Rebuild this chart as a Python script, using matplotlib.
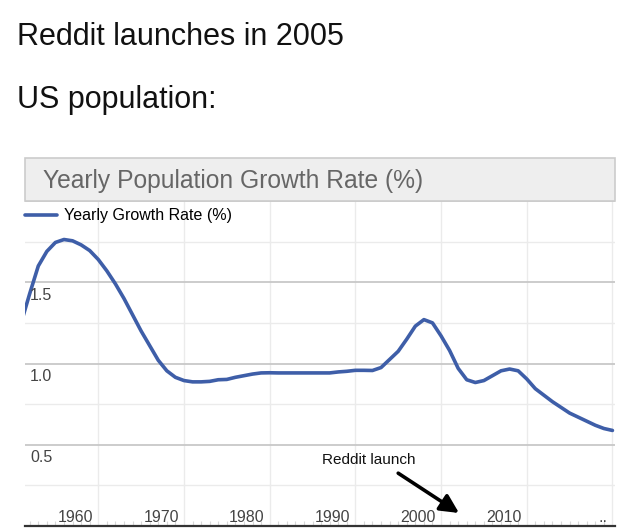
import numpy as np
import matplotlib
matplotlib.use("Agg")
import matplotlib.pyplot as plt
from matplotlib.patches import Rectangle
from matplotlib.transforms import offset_copy, blended_transform_factory

plt.rcParams['font.family'] = ['Liberation Sans', 'DejaVu Sans']

# values, one per year
years = list(range(1951, 2021))
growth = [1.25, 1.43, 1.60, 1.69, 1.745, 1.763, 1.755, 1.73, 1.695, 1.64,
          1.57, 1.49, 1.40, 1.30, 1.20, 1.11, 1.02, 0.955, 0.915, 0.895,
          0.887, 0.887, 0.89, 0.90, 0.902, 0.915, 0.925, 0.935, 0.942, 0.943,
          0.942, 0.942, 0.942, 0.942, 0.942, 0.942, 0.942, 0.948, 0.952, 0.958,
          0.958, 0.957, 0.975, 1.025, 1.075, 1.15, 1.23, 1.27, 1.25, 1.17,
          1.08, 0.97, 0.90, 0.883, 0.895, 0.925, 0.955, 0.966, 0.955, 0.905,
          0.845, 0.805, 0.765, 0.73, 0.695, 0.67, 0.645, 0.62, 0.60, 0.588]

decades = [1960, 1970, 1980, 1990, 2000, 2010, 2020]
decade_labels = ["1960", "1970", "1980", "1990", "2000", "2010", ".."]
ytick_vals = [0.5, 1.0, 1.5]
ytick_labels = ["0.5", "1.0", "1.5"]

line_col = '#3e5ea8'

fig = plt.figure(figsize=(6.4, 5.3), dpi=100)
ax = fig.add_axes([25/640, 1 - 526/530, 590/640, 325/530])

ax.plot(years, growth, color=line_col, lw=2.6, solid_capstyle='round',
        solid_joinstyle='round', label='Yearly Growth Rate (%)', zorder=3)
ax.set_xlim(1951.45, 2020.3)
ax.set_ylim(0, 2.0)

# grid
ax.set_yticks([0.5, 1.0, 1.5, 2.0])
ax.set_yticks([0.25, 0.75, 1.25, 1.75], minor=True)
ax.set_xticks(decades)
ax.set_xticks([y for y in range(1952, 2021) if y % 10 != 0], minor=True)
ax.grid(True, which='major', axis='y', color='#c8c8c8', lw=1.3)
ax.grid(True, which='minor', axis='y', color='#ebebeb', lw=1.0)
ax.grid(True, which='major', axis='x', color='#ebebeb', lw=1.0)
ax.set_axisbelow(True)
ax.tick_params(axis='y', which='both', length=0, labelleft=False)
ax.tick_params(axis='x', which='major', length=0, labelbottom=False)
ax.tick_params(axis='x', which='minor', direction='in', length=3.5,
               width=0.8, color='#d8d8d8')
for s in ['top', 'left', 'right']:
    ax.spines[s].set_visible(False)
ax.spines['bottom'].set_color('#333333')
ax.spines['bottom'].set_linewidth(1.6)

# labels drawn inside the plot area, google-charts style
ytr = offset_copy(blended_transform_factory(ax.transAxes, ax.transData),
                  fig=fig, x=5, y=-13, units='dots')
for v, t in zip(ytick_vals, ytick_labels):
    ax.text(0, v, t, transform=ytr, ha='left', va='center',
            fontsize=11.5, color='#444444')

xtr = offset_copy(blended_transform_factory(ax.transData, ax.transAxes),
                  fig=fig, x=-5, y=9, units='dots')
for d, t in zip(decades, decade_labels):
    ax.text(d, 0, t, transform=xtr, ha='right', va='center',
            fontsize=11.5, color='#444444')

ax.legend(loc='upper left', bbox_to_anchor=(0.0, 0.978), frameon=False,
          borderpad=0, borderaxespad=0, handlelength=2.0, handletextpad=0.45,
          fontsize=11.5)

# chart title box
fig.patches.append(Rectangle((25/640, 1 - 201/530), 590/640, 43/530,
                             transform=fig.transFigure, facecolor='#eeeeee',
                             edgecolor='#cccccc', lw=1.2, zorder=0))
fig.text(43/640, 1 - 181/530, 'Yearly Population Growth Rate (%)',
         ha='left', va='center', fontsize=17.7, color='#666666')

# meme captions
fig.text(17/640, 1 - 37/530, 'Reddit launches in 2005', ha='left',
         va='center', fontsize=22, color='#111111')
fig.text(17/640, 1 - 100/530, 'US population:', ha='left',
         va='center', fontsize=22, color='#111111')

# launch annotation
ax.text(1991.6, 0.405, 'Reddit launch', ha='center', va='center',
        fontsize=11, color='#111111')
ax.annotate('', xy=(2002.1, 0.08), xytext=(1995.0, 0.325),
            arrowprops=dict(arrowstyle='-|>', color='black', lw=2.6,
                            mutation_scale=28, shrinkA=0, shrinkB=0))

fig.savefig('out.png', dpi=100)
